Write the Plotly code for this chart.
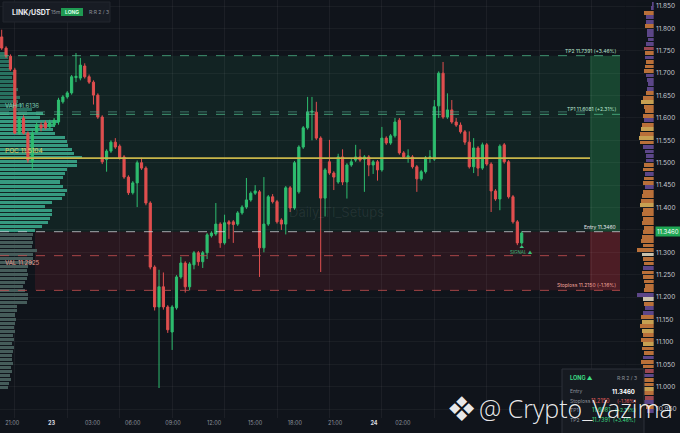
import plotly.graph_objects as go

# --- chart data -------------------------------------------------------------
pair = "LINK/USDT"
timeframe = "15m"

candle_open = [11.781, 11.756, 11.738, 11.707, 11.566, 11.600, 11.566, 11.502, 11.569, 11.584,
               11.589, 11.580, 11.584, 11.591, 11.636, 11.647, 11.656, 11.690, 11.689, 11.716,
               11.692, 11.680, 11.651, 11.602, 11.507, 11.526, 11.546, 11.537, 11.513, 11.468,
               11.433, 11.455, 11.500, 11.488, 11.410, 11.267, 11.178, 11.223, 11.178, 11.122,
               11.176, 11.245, 11.276, 11.223, 11.272, 11.299, 11.279, 11.299, 11.337, 11.341,
               11.363, 11.321, 11.368, 11.368, 11.363, 11.388, 11.401, 11.417, 11.432, 11.435,
               11.310, 11.363, 11.424, 11.413, 11.372, 11.363, 11.444, 11.399, 11.435, 11.535,
               11.578, 11.613, 11.613, 11.555, 11.421, 11.502, 11.477, 11.457, 11.513, 11.457,
               11.495, 11.506, 11.513, 11.508, 11.513, 11.495, 11.502, 11.484, 11.555, 11.544,
               11.560, 11.595, 11.522, 11.513, 11.513, 11.491, 11.464, 11.480, 11.511, 11.508,
               11.627, 11.700, 11.602, 11.618, 11.591, 11.584, 11.569, 11.546, 11.491, 11.533,
               11.488, 11.540, 11.497, 11.437, 11.419, 11.540, 11.502, 11.424, 11.368, 11.321]
candle_high = [11.797, 11.760, 11.742, 11.712, 11.604, 11.606, 11.570, 11.575, 11.590, 11.590,
               11.594, 11.596, 11.600, 11.645, 11.651, 11.660, 11.696, 11.745, 11.734, 11.722,
               11.697, 11.684, 11.655, 11.606, 11.530, 11.550, 11.555, 11.541, 11.517, 11.472,
               11.459, 11.505, 11.511, 11.492, 11.414, 11.271, 11.261, 11.255, 11.182, 11.182,
               11.249, 11.290, 11.280, 11.278, 11.303, 11.303, 11.303, 11.343, 11.347, 11.410,
               11.367, 11.384, 11.372, 11.372, 11.392, 11.405, 11.466, 11.436, 11.450, 11.439,
               11.468, 11.428, 11.430, 11.417, 11.376, 11.448, 11.448, 11.504, 11.539, 11.582,
               11.647, 11.647, 11.636, 11.559, 11.488, 11.551, 11.481, 11.520, 11.530, 11.499,
               11.510, 11.540, 11.530, 11.517, 11.517, 11.506, 11.506, 11.580, 11.559, 11.564,
               11.600, 11.600, 11.526, 11.530, 11.517, 11.495, 11.484, 11.515, 11.528, 11.640,
               11.704, 11.725, 11.655, 11.640, 11.600, 11.590, 11.573, 11.570, 11.555, 11.537,
               11.545, 11.544, 11.501, 11.441, 11.541, 11.544, 11.506, 11.428, 11.372, 11.347]
candle_low = [11.752, 11.734, 11.705, 11.564, 11.562, 11.563, 11.500, 11.484, 11.565, 11.570,
              11.574, 11.576, 11.580, 11.585, 11.632, 11.643, 11.652, 11.680, 11.684, 11.688,
              11.676, 11.630, 11.598, 11.497, 11.480, 11.522, 11.531, 11.507, 11.464, 11.428,
              11.429, 11.401, 11.484, 11.405, 11.262, 11.170, 10.997, 11.172, 11.120, 11.082,
              11.172, 11.241, 11.210, 11.215, 11.262, 11.270, 11.265, 11.285, 11.333, 11.337,
              11.310, 11.317, 11.330, 11.321, 11.359, 11.384, 11.397, 11.413, 11.428, 11.245,
              11.300, 11.359, 11.409, 11.364, 11.350, 11.340, 11.390, 11.395, 11.431, 11.531,
              11.574, 11.550, 11.551, 11.256, 11.380, 11.473, 11.439, 11.453, 11.450, 11.420,
              11.491, 11.502, 11.502, 11.435, 11.470, 11.475, 11.460, 11.480, 11.540, 11.540,
              11.556, 11.518, 11.509, 11.500, 11.487, 11.435, 11.460, 11.476, 11.500, 11.504,
              11.600, 11.598, 11.598, 11.587, 11.580, 11.565, 11.540, 11.487, 11.477, 11.470,
              11.484, 11.493, 11.390, 11.415, 11.394, 11.498, 11.420, 11.364, 11.316, 11.317]
candle_close = [11.756, 11.738, 11.709, 11.566, 11.600, 11.566, 11.506, 11.566, 11.584, 11.578,
                11.578, 11.589, 11.595, 11.640, 11.647, 11.656, 11.692, 11.693, 11.718, 11.692,
                11.680, 11.651, 11.602, 11.502, 11.526, 11.546, 11.535, 11.511, 11.468, 11.433,
                11.455, 11.500, 11.488, 11.410, 11.267, 11.178, 11.223, 11.178, 11.127, 11.178,
                11.245, 11.276, 11.223, 11.274, 11.299, 11.279, 11.299, 11.339, 11.343, 11.363,
                11.321, 11.366, 11.363, 11.362, 11.388, 11.401, 11.417, 11.432, 11.437, 11.310,
                11.363, 11.424, 11.413, 11.368, 11.363, 11.444, 11.399, 11.500, 11.535, 11.578,
                11.613, 11.615, 11.555, 11.421, 11.484, 11.477, 11.468, 11.513, 11.457, 11.495,
                11.502, 11.513, 11.506, 11.513, 11.495, 11.502, 11.484, 11.555, 11.544, 11.560,
                11.591, 11.522, 11.513, 11.515, 11.491, 11.464, 11.480, 11.511, 11.513, 11.625,
                11.700, 11.602, 11.618, 11.591, 11.584, 11.569, 11.546, 11.491, 11.533, 11.488,
                11.540, 11.497, 11.437, 11.419, 11.537, 11.502, 11.424, 11.368, 11.321, 11.343]
candle_x = list(range(len(candle_open)))

# time axis labels (candle index -> label)
time_tick_pos = [2.4, 11.4, 20.8, 30.0, 39.2, 48.6, 58.0, 67.1, 76.3, 85.2, 91.8]
time_tick_text = ["21:00", "23", "03:00", "06:00", "09:00", "12:00",
                  "15:00", "18:00", "21:00", "24", "02:00"]

# trade setup levels
tp2 = 11.7391
tp1 = 11.6081
vah = 11.6136
poc = 11.5104
entry = 11.3460
val = 11.2925
stoploss = 11.2150
tp2_pct = "+3.46%"
tp1_pct = "+2.31%"
sl_pct = "-1.16%"

# left session volume profile (top bin price, bin step, volume per bin)
vp_left_top = 11.745
vp_left_step = 0.009
vp_left_volume = [7, 10, 12, 15, 12, 17, 15, 20, 16, 22, 18, 24, 22, 27, 39, 52, 49, 71, 67, 65,
                  67, 79, 82, 83, 88, 90, 100, 94, 94, 82, 79, 77, 73, 77, 82, 79, 76, 63, 55, 63,
                  63, 61, 59, 51, 43, 40, 39, 40, 39, 45, 40, 40, 40, 34, 33, 34, 33, 31, 28, 31,
                  34, 34, 33, 21, 21, 18, 20, 18, 17, 18, 16, 17, 15, 17, 16, 15, 15, 16, 13, 15,
                  12, 13, 11, 10]

# right heat profile (top bin price, bin step, size, colour class)
vp_right_top = 11.855
vp_right_step = 0.01
vp_right_size = [2, 3, 11, 9, 9, 10, 8, 8, 7, 9, 11, 10, 10, 9, 10, 11, 9, 8, 7, 8,
                 9, 12, 14, 11, 10, 12, 11, 13, 14, 15, 16, 15, 12, 10, 9, 9, 11, 12, 10, 11,
                 12, 10, 12, 13, 14, 15, 12, 13, 12, 13, 11, 12, 13, 14, 12, 18, 13, 12, 11, 12,
                 13, 12, 11, 10, 11, 18, 12, 11, 10, 12, 14, 13, 15, 13, 12, 14, 12, 13, 11, 12,
                 14, 12, 10, 13, 12, 14, 11, 12, 10, 11, 9, 8]
vp_right_class = list("ppoppoppppropooopppp"
                      "ooyooopoyoyoppppoopo"
                      "opoooyoooooooooowoop"
                      "ooooopwoppoyoyooyoop"
                      "oorpooyorpop")

# --- styling ----------------------------------------------------------------
BG = "#10141b"
GREEN = "#2ebd6f"
RED = "#e04f4f"
FONT = "Inter"
PLOT_W, PLOT_H = 655, 418
X_MIN, X_MAX = -0.39, 149.5
Y_MIN, Y_MAX = 10.930, 11.8634


def cx(px):
    # pixel -> candle axis units
    return X_MIN + px / PLOT_W * (X_MAX - X_MIN)


def paper_x(px):
    return px / PLOT_W


def paper_y(py):
    return 1 - py / PLOT_H


vp_left_levels = [round(vp_left_top - i * vp_left_step, 4) for i in range(len(vp_left_volume))]
left_colors = []
for lvl in vp_left_levels:
    if lvl > vah:
        left_colors.append("#2b7a67")
    elif lvl >= entry:
        left_colors.append("#3aa68b")
    else:
        left_colors.append("#4b6461")

vp_right_levels = [round(vp_right_top - i * vp_right_step, 4) for i in range(len(vp_right_size))]
heat_palette = {"o": "#d7803f", "p": "#6a4f9c", "y": "#e7b95c", "w": "#ebe0c6", "r": "#b4505a"}
right_colors = [heat_palette[c] for c in vp_right_class]

fig = go.Figure()

fig.add_trace(go.Bar(
    x=vp_left_volume, y=vp_left_levels, orientation="h", width=0.0068,
    marker=dict(color=left_colors, line=dict(width=0)), opacity=0.9,
    xaxis="x", yaxis="y", hoverinfo="skip",
))

fig.add_trace(go.Candlestick(
    x=candle_x, open=candle_open, high=candle_high, low=candle_low, close=candle_close,
    increasing=dict(line=dict(color=GREEN, width=1), fillcolor=GREEN),
    decreasing=dict(line=dict(color=RED, width=1), fillcolor=RED),
    whiskerwidth=0, xaxis="x2", yaxis="y", hoverinfo="skip",
))

fig.add_trace(go.Scatter(
    x=[candle_x[-1]], y=[candle_low[-1] - 0.005], mode="markers",
    marker=dict(symbol="triangle-up", size=4, color="#3cc47c"),
    xaxis="x2", yaxis="y", hoverinfo="skip",
))

fig.add_trace(go.Bar(
    x=vp_right_size, y=vp_right_levels, orientation="h", width=0.0085,
    marker=dict(color=right_colors, line=dict(width=0)), opacity=0.85,
    xaxis="x3", yaxis="y", hoverinfo="skip",
))

shapes = []
# target / risk zones
zone_x0, zone_mid, zone_x1 = cx(35), cx(590), cx(620)
shapes.append(dict(type="rect", xref="x2", yref="y", x0=X_MIN, x1=zone_mid, y0=entry, y1=tp2,
                   fillcolor="rgba(34,120,80,0.16)", line=dict(width=0), layer="below"))
shapes.append(dict(type="rect", xref="x2", yref="y", x0=zone_mid, x1=zone_x1, y0=entry, y1=tp2,
                   fillcolor="rgba(40,150,85,0.38)", line=dict(width=0), layer="below"))
shapes.append(dict(type="rect", xref="x2", yref="y", x0=zone_x0, x1=zone_mid, y0=stoploss, y1=entry,
                   fillcolor="rgba(130,35,45,0.22)", line=dict(width=0), layer="below"))
shapes.append(dict(type="rect", xref="x2", yref="y", x0=zone_mid, x1=zone_x1, y0=stoploss, y1=entry,
                   fillcolor="rgba(150,40,50,0.45)", line=dict(width=0), layer="below"))


def hline(level, color, dash, x1, width=1):
    return dict(type="line", xref="x2", yref="y", x0=X_MIN, x1=x1, y0=level, y1=level,
                line=dict(color=color, width=width, dash=dash), layer="above")


shapes.append(hline(tp2, "rgba(80,190,140,0.75)", "dash", zone_x1))
shapes.append(hline(tp1, "rgba(80,190,140,0.75)", "dash", zone_x1))
shapes.append(hline(vah, "rgba(90,170,150,0.6)", "dash", zone_mid))
shapes.append(hline(poc, "#c9b64a", "solid", zone_mid, width=1.6))
shapes.append(hline(entry, "rgba(210,215,220,0.75)", "dash", zone_x1))
shapes.append(hline(val, "rgba(200,80,80,0.8)", "dash", zone_mid))
shapes.append(hline(stoploss, "rgba(200,80,80,0.8)", "dash", zone_x1))

# header box and bottom-right info box
shapes.append(dict(type="rect", xref="paper", yref="paper",
                   x0=paper_x(3), x1=paper_x(110), y0=paper_y(22), y1=paper_y(2),
                   fillcolor="#181c24", line=dict(color="#23272f", width=1), layer="above"))
shapes.append(dict(type="rect", xref="paper", yref="paper",
                   x0=paper_x(562), x1=paper_x(644), y0=paper_y(440), y1=paper_y(369),
                   fillcolor="#161a21", line=dict(color="#2c313a", width=1), layer="above"))
shapes.append(dict(type="rect", xref="paper", yref="paper",
                   x0=paper_x(61), x1=paper_x(83), y0=paper_y(16), y1=paper_y(8),
                   fillcolor="#1f9a52", line=dict(width=0), layer="above"))

annotations = []


def note(text, x, y, size, color, xanchor="left", yanchor="middle", xref="x2", yref="y", **kw):
    annotations.append(dict(text=text, x=x, y=y, xref=xref, yref=yref, showarrow=False,
                            xanchor=xanchor, yanchor=yanchor,
                            font=dict(family=FONT, size=size, color=color), **kw))


lbl_x = cx(618)
note(f"TP2 {tp2:.4f} ({tp2_pct})", lbl_x, tp2, 5, "#b9e6cf", "right", "bottom")
note(f"TP1 {tp1:.4f} ({tp1_pct})", lbl_x, tp1, 5, "#b9e6cf", "right", "bottom")
note(f"Entry {entry:.4f}", lbl_x, entry, 5, "#e6e8eb", "right", "bottom")
note(f"Stoploss {stoploss:.4f} ({sl_pct})", lbl_x, stoploss, 5, "#f0a49c", "right", "bottom")

note(f"VAH {vah:.4f}", paper_x(3), vah, 6, "#7cc9ad", "left", "bottom", xref="paper", yshift=1)
note(f"POC {poc:.4f}", paper_x(3), poc, 6.5, "#e2cd5c", "left", "bottom", xref="paper", yshift=1)
note(f"VAL {val:.4f}", paper_x(3), val, 6, "#e7998f", "left", "top", xref="paper", yshift=-1)

note("SIGNAL ▲", candle_x[-1], candle_low[-1] - 0.017, 4.5, "#3cb878", "center", "middle")
note("Daily_TI_Setups", paper_x(336), paper_y(212), 13, "rgba(255,255,255,0.08)", "center",
     "middle", xref="paper", yref="paper")

# price label on the axis
note(f"{entry:.4f}", 1.0, entry, 6, "#ffffff", "left", "middle", xref="paper",
     bgcolor="#1fa855", borderpad=1)

# header
note(f"<b>{pair}</b>", paper_x(10), paper_y(12), 7, "#e8eaee", xref="paper", yref="paper")
note(timeframe, paper_x(49), paper_y(12), 5, "#8d929b", xref="paper", yref="paper")
note("<b>LONG</b>", paper_x(72), paper_y(12), 5, "#d8ffe6", "center", xref="paper", yref="paper")
note("R:R 2 / 3", paper_x(87), paper_y(12), 5, "#8d929b", xref="paper", yref="paper")

# info box
note("<b>LONG ▲</b>", paper_x(568), paper_y(378), 5.5, "#3ddc84", xref="paper", yref="paper")
note("R:R 2 / 3", paper_x(639), paper_y(378), 5, "#8d929b", "right", xref="paper", yref="paper")
box_rows = [("Entry", f"<b>{entry:.4f}</b>", "#ffffff", ""),
            ("Stoploss", f"{stoploss:.4f}", "#e05a5a", f"({sl_pct})"),
            ("TP1", f"{tp1:.4f}", "#3ddc84", f"({tp1_pct})"),
            ("TP2", f"{tp2:.4f}", "#3ddc84", f"({tp2_pct})")]
for i, (name, value, vcol, pct) in enumerate(box_rows):
    row_y = paper_y(391 + i * 9.7)
    note(name, paper_x(568), row_y, 5, "#8d929b", xref="paper", yref="paper")
    if pct:
        note(value, paper_x(612), row_y, 5.5, vcol, "right", xref="paper", yref="paper")
        note(pct, paper_x(638), row_y, 5, vcol, "right", xref="paper", yref="paper")
    else:
        note(value, paper_x(637), row_y, 6, vcol, "right", xref="paper", yref="paper")

# watermark
note("❖", paper_x(461), paper_y(408), 26, "rgba(255,255,255,0.92)", "center",
     xref="paper", yref="paper")
annotations.append(dict(text="@ Crypto_Vazima", x=paper_x(477), y=paper_y(408), xref="paper",
                        yref="paper", showarrow=False, xanchor="left", yanchor="middle",
                        font=dict(family="Open Sans", size=25, color="rgba(255,255,255,0.93)",
                                  weight=300)))

tick_labels = []
for t in time_tick_text:
    if ":" in t:
        tick_labels.append(t)
    else:
        tick_labels.append(f"<span style='color:#d8dbe0'><b>{t}</b></span>")

fig.update_layout(
    width=680, height=433,
    margin=dict(l=0, r=25, t=0, b=15),
    paper_bgcolor=BG, plot_bgcolor=BG,
    showlegend=False, hovermode=False, bargap=0,
    font=dict(family=FONT, color="#8d929b"),
    xaxis=dict(domain=[0, 1], range=[0, 800], visible=False, fixedrange=True),
    xaxis2=dict(overlaying="x", anchor="y", side="bottom", range=[X_MIN, X_MAX],
                tickmode="array", tickvals=time_tick_pos, ticktext=tick_labels,
                tickfont=dict(size=5.5, color="#8d929b"), showgrid=False, zeroline=False,
                showline=False, ticks="", rangeslider=dict(visible=False),
                minor=dict(tickmode="linear", tick0=3, dtick=12, showgrid=True,
                           gridcolor="rgba(255,255,255,0.05)", ticks="")),
    xaxis3=dict(domain=[0.955, 0.998], anchor="y", range=[30, 0], visible=False),
    yaxis=dict(side="right", range=[Y_MIN, Y_MAX], tick0=11.0, dtick=0.05, tickformat=".3f",
               tickfont=dict(size=6.5, color="#c3c7cf"), showgrid=True,
               gridcolor="rgba(255,255,255,0.045)", zeroline=False, showline=False, ticks=""),
    shapes=shapes,
    annotations=annotations,
)

# page has a default body margin; drop it so the figure sits at the window corner
fig.write_html("out.html", config={"displayModeBar": False},
               post_script="document.body.style.margin='0';"
                           "document.body.style.overflow='hidden';"
                           "document.body.style.background='#10141b';")
